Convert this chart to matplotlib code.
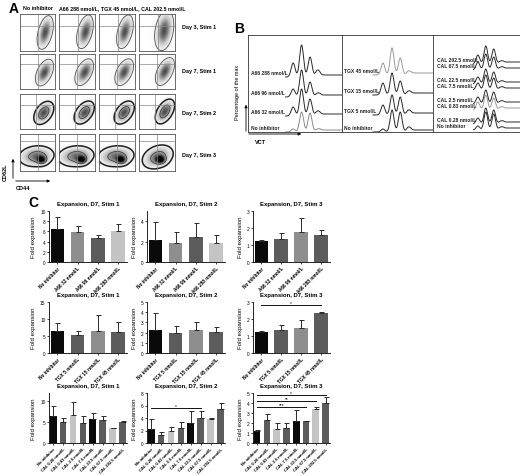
import numpy as np
import matplotlib
matplotlib.use("Agg")
import matplotlib.pyplot as plt

plt.rcParams['font.family'] = ['Liberation Sans', 'DejaVu Sans']

W, H = 520, 477

# ---------------- Panel A: flow plots ----------------
A_HEADER_1 = 'No inhibitor'
A_HEADER_2 = 'A66 288 nmol/L, TGX 45 nmol/L, CAL 202.5 nmol/L'
A_ROWS = ['Day 3, Stim 1', 'Day 7, Stim 1', 'Day 7, Stim 2', 'Day 7, Stim 3']
# main population (axes fraction), rows x columns
FLOW_CX = [[0.72, 0.72, 0.72, 0.70], [0.70, 0.70, 0.70, 0.72],
           [0.68, 0.70, 0.70, 0.72], [0.62, 0.62, 0.62, 0.60]]
FLOW_CY = [[0.50, 0.52, 0.52, 0.55], [0.47, 0.48, 0.48, 0.50],
           [0.46, 0.47, 0.47, 0.50], [0.30, 0.30, 0.30, 0.30]]
FLOW_SX = [[0.105, 0.105, 0.105, 0.13], [0.11, 0.11, 0.11, 0.11],
           [0.12, 0.115, 0.115, 0.11], [0.09, 0.09, 0.09, 0.09]]
FLOW_SY = [[0.24, 0.24, 0.24, 0.28], [0.21, 0.21, 0.21, 0.22],
           [0.19, 0.19, 0.19, 0.20], [0.07, 0.07, 0.07, 0.07]]
FLOW_TILT = [[-15, -15, -15, -10], [-25, -25, -25, -25],
             [-35, -35, -35, -30], [0, 0, 0, 0]]
# second (spread) population, only in Stim 3 row
SPREAD_CX = [0.47, 0.47, 0.47, 0.52]
SPREAD_CY = [0.40, 0.40, 0.40, 0.38]
SPREAD_SX = [0.27, 0.27, 0.27, 0.24]
SPREAD_SY = [0.15, 0.15, 0.15, 0.16]
SPREAD_TILT = [5, 5, 5, 22]
GATE_X = [0.52, 0.50, 0.45, 0.50]
GATE_Y = [0.68, 0.72, 0.70, 0.80]

# ---------------- Panel B: VCT histograms ----------------
B_LEFT_LABELS = ['No inhibitor', 'A66 32 nmol/L', 'A66 96 nmol/L', 'A66 288 nmol/L']
B_LEFT_BASE = [0, 16, 35, 55]
B_LEFT_PEAKS = [0.48, 0.57, 0.66, 0.74]
B_LEFT_HEIGHTS = [[3, 20, 19, 3], [9, 27, 17, 5], [8, 27, 15, 4], [14, 32, 20, 7]]

B_MID_LABELS = ['No inhibitor', 'TGX 5 nmol/L', 'TGX 15 nmol/L', 'TGX 45 nmol/L']
B_MID_BASE = [0, 17, 37, 57]
B_MID_PEAKS = [0.45, 0.55, 0.64, 0.73]
B_MID_HEIGHTS = [[3, 22, 20, 5], [10, 20, 18, 5], [12, 22, 14, 4], [12, 27, 17, 4]]

B_RIGHT_LABELS = ['No inhibitor', 'CAL 0.28 nmol/L', 'CAL 0.83 nmol/L', 'CAL 2.5 nmol/L',
                  'CAL 7.5 nmol/L', 'CAL 22.5 nmol/L', 'CAL 67.5 nmol/L', 'CAL 202.5 nmol/L']
B_RIGHT_BASE = [2, 8, 22, 28, 42, 48, 62, 68]
B_RIGHT_PEAKS = [0.51, 0.60, 0.69, 0.77]
B_RIGHT_HEIGHTS = [[4, 18, 16, 3], [6, 16, 14, 3], [8, 15, 12, 3], [7, 14, 12, 3],
                   [7, 15, 12, 3], [7, 15, 12, 3], [8, 16, 13, 3], [9, 18, 15, 3]]

# ---------------- Panel C: fold expansion ----------------
A66_CATS = ['No inhibitor', 'A66 32 nmol/L', 'A66 96 nmol/L', 'A66 288 nmol/L']
TGX_CATS = ['No inhibitor', 'TGX 5 nmol/L', 'TGX 15 nmol/L', 'TGX 45 nmol/L']
CAL_CATS = ['No inhibitor', 'CAL 0.28 nmol/L', 'CAL 0.83 nmol/L', 'CAL 2.5 nmol/L',
            'CAL 7.5 nmol/L', 'CAL 22.5 nmol/L', 'CAL 67.5 nmol/L', 'CAL 202.5 nmol/L']

A66_STIM1 = [6.4, 5.8, 4.8, 6.1]
A66_STIM1_ERR = [2.4, 1.2, 0.5, 1.3]
A66_STIM2 = [2.2, 1.9, 2.5, 1.9]
A66_STIM2_ERR = [1.7, 1.0, 1.3, 0.7]
A66_STIM3 = [1.25, 1.38, 1.78, 1.6]
A66_STIM3_ERR = [0.02, 0.3, 0.82, 0.3]

TGX_STIM1 = [6.5, 5.2, 6.5, 6.3]
TGX_STIM1_ERR = [2.3, 1.3, 4.6, 2.8]
TGX_STIM2 = [2.25, 2.0, 2.25, 2.1]
TGX_STIM2_ERR = [1.65, 0.6, 0.75, 0.45]
TGX_STIM3 = [1.25, 1.35, 1.45, 2.35]
TGX_STIM3_ERR = [0.02, 0.28, 0.47, 0.05]

CAL_STIM1 = [6.5, 5.1, 6.7, 4.9, 5.8, 5.6, 3.5, 5.0]
CAL_STIM1_ERR = [2.3, 0.8, 3.1, 1.5, 1.3, 1.0, 0.1, 0.3]
CAL_STIM2 = [2.3, 1.3, 2.0, 2.4, 3.25, 3.95, 3.8, 5.4]
CAL_STIM2_ERR = [1.6, 0.45, 0.5, 1.0, 1.95, 1.2, 0.25, 1.0]
CAL_STIM3 = [1.25, 2.3, 1.4, 1.55, 2.2, 2.2, 3.4, 4.05]
CAL_STIM3_ERR = [0.02, 0.65, 0.6, 0.45, 1.1, 0.03, 0.25, 0.55]

# significance brackets: (first bar, last bar, height, stars)
TGX_STIM3_SIG = [(0, 3, 2.85, '*')]
CAL_STIM2_SIG = [(0, 5, 5.6, '*')]
CAL_STIM3_SIG = [(0, 7, 4.8, '*'), (0, 6, 4.2, '**'), (0, 5, 3.6, '***')]

BLACK, DARK, MID, LIGHT = '#0a0a0a', '#5c5c5c', '#8e8e8e', '#c4c4c4'


def px_box(x0, y0, x1, y1):
    return [x0 / W, 1 - y1 / H, (x1 - x0) / W, (y1 - y0) / H]


def blob(gx, gy, cx, cy, sx, sy, tilt):
    t = np.deg2rad(tilt)
    dx, dy = gx - cx, gy - cy
    u = dx * np.cos(t) + dy * np.sin(t)
    v = -dx * np.sin(t) + dy * np.cos(t)
    return np.exp(-0.5 * ((u / sx) ** 2 + (v / sy) ** 2))


def flow_panel(ax, r, c):
    g = np.linspace(0, 1, 120)
    gx, gy = np.meshgrid(g, g)
    dens = blob(gx, gy, FLOW_CX[r][c], FLOW_CY[r][c], FLOW_SX[r][c], FLOW_SY[r][c], FLOW_TILT[r][c])
    if r == 3:
        dens = dens + 0.85 * blob(gx, gy, SPREAD_CX[c], SPREAD_CY[c], SPREAD_SX[c],
                                  SPREAD_SY[c], SPREAD_TILT[c])
    ax.imshow(dens, origin='lower', extent=(0, 1, 0, 1), cmap='Greys', vmin=0, vmax=1.3,
              aspect='auto', interpolation='bilinear')
    if r >= 2:
        ax.contour(g, g, dens, levels=[0.15], colors='#202020', linewidths=1.1)
        ax.contour(g, g, dens, levels=[0.6], colors='#303030', linewidths=0.5)
    else:
        ax.contour(g, g, dens, levels=[0.15], colors='#505050', linewidths=0.6)
    ax.axvline(GATE_X[r], color='#888888', lw=0.5)
    ax.axhline(GATE_Y[r], color='#888888', lw=0.5)
    ax.set_xlim(0, 1)
    ax.set_ylim(0, 1)
    ax.set_xticks([])
    ax.set_yticks([])
    for s in ax.spines.values():
        s.set_color('#555555')
        s.set_linewidth(0.6)


def hist_panel(ax, labels, bases, peaks, heights, start, label_x, colors):
    x = np.linspace(start, 1.0, 400)
    for lab, b, hs, col in zip(labels, bases, heights, colors):
        y = np.full_like(x, float(b))
        for p, h in zip(peaks, hs):
            y += h * np.exp(-0.5 * ((x - p) / 0.021) ** 2)
        y += 2.0 * np.clip((x - peaks[-1]) / 0.03, 0, 1)
        ax.plot(x, y, color=col, lw=0.7)
        ax.text(label_x, b + 4.5, lab, fontsize=3.6, fontweight='bold', va='center',
                ha='left', color='#222222')
    ax.set_xlim(0, 1)
    ax.set_ylim(0, 97)
    ax.set_xticks([])
    ax.set_yticks([])
    for s in ax.spines.values():
        s.set_linewidth(0.6)
        s.set_color('#333333')


def bar_panel(ax, cats, vals, errs, colors, ylim, yticks, title, sig=()):
    x = np.arange(len(cats))
    ax.bar(x, vals, width=0.68, color=colors, edgecolor='none', zorder=2)
    ax.errorbar(x, vals, yerr=[np.zeros(len(vals)), errs], fmt='none', ecolor='#2a2a2a',
                elinewidth=0.7, capsize=1.8, capthick=0.7, zorder=3)
    for i0, i1, yy, stars in sig:
        ax.plot([x[i0], x[i1]], [yy, yy], color='#111111', lw=0.7, zorder=4)
        ax.text((x[i0] + x[i1]) / 2, yy, stars, fontsize=3.5, ha='center', va='bottom')
    ax.set_xlim(-0.42, len(cats) - 0.55)
    ax.set_ylim(*ylim)
    ax.set_yticks(yticks)
    ax.set_xticks(x)
    lab_size = 3.4 if len(cats) <= 4 else 3.0
    ax.set_xticklabels(cats, rotation=45, ha='right', rotation_mode='anchor',
                       fontsize=lab_size, fontweight='bold')
    ax.tick_params(axis='y', labelsize=3.4, length=1.5, width=0.5, pad=1)
    ax.tick_params(axis='x', length=1.5, width=0.5, pad=1)
    ax.set_ylabel('Fold expansion', fontsize=4.4, labelpad=3)
    ax.set_title(title, fontsize=4.3, fontweight='bold', pad=4)
    for s in ('top', 'right'):
        ax.spines[s].set_visible(False)
    for s in ('left', 'bottom'):
        ax.spines[s].set_linewidth(0.6)


def main():
    fig = plt.figure(figsize=(W / 100, H / 100), dpi=100)

    # overlay for letters, labels and arrows (pixel coordinates)
    ov = fig.add_axes([0, 0, 1, 1])
    ov.set_xlim(0, W)
    ov.set_ylim(H, 0)
    ov.axis('off')

    # ---- A ----
    ov.text(9, 9, 'A', fontsize=10, fontweight='bold', va='center')
    ov.text(23, 9, A_HEADER_1, fontsize=3.8, fontweight='bold', va='center')
    ov.text(59, 9, A_HEADER_2, fontsize=3.8, fontweight='bold', va='center')
    col_x = [(20, 55), (59, 95), (99, 135), (139, 175)]
    row_y = [(15, 52), (55, 90), (95, 130), (135, 172)]
    row_lab_y = [27, 72, 113, 156]
    for r in range(4):
        for c in range(4):
            ax = fig.add_axes(px_box(col_x[c][0], row_y[r][0], col_x[c][1], row_y[r][1]))
            flow_panel(ax, r, c)
        ov.text(182, row_lab_y[r], A_ROWS[r], fontsize=4, fontweight='bold', va='center')
    ov.annotate('', xy=(13, 157), xytext=(13, 182),
                arrowprops=dict(arrowstyle='-|>', lw=0.6, color='black', mutation_scale=4))
    ov.annotate('', xy=(53, 182), xytext=(13, 182),
                arrowprops=dict(arrowstyle='-|>', lw=0.6, color='black', mutation_scale=4))
    ov.text(5, 172, 'CD62L', fontsize=4, fontweight='bold', rotation=90, va='center', ha='center')
    ov.text(16, 189, 'CD44', fontsize=4, fontweight='bold', va='center')

    # ---- B ----
    ov.text(234, 29, 'B', fontsize=10, fontweight='bold', va='center')
    ov.text(237, 92, 'Percentage of the max', fontsize=4, rotation=90, va='center', ha='center')
    axl = fig.add_axes(px_box(248, 36, 342, 133))
    hist_panel(axl, B_LEFT_LABELS, B_LEFT_BASE, B_LEFT_PEAKS, B_LEFT_HEIGHTS, 0.40, 0.03,
               ['#8a8a8a', '#2a2a2a', '#2a2a2a', '#2a2a2a'])
    axm = fig.add_axes(px_box(342, 36, 433, 133))
    hist_panel(axm, B_MID_LABELS, B_MID_BASE, B_MID_PEAKS, B_MID_HEIGHTS, 0.34, 0.02,
               ['#2a2a2a', '#2a2a2a', '#2a2a2a', '#9a9a9a'])
    axr = fig.add_axes(px_box(433, 36, 521, 133))
    hist_panel(axr, B_RIGHT_LABELS, B_RIGHT_BASE, B_RIGHT_PEAKS, B_RIGHT_HEIGHTS, 0.46, 0.04,
               ['#2a2a2a', '#2a2a2a', '#9a9a9a', '#2a2a2a',
                '#2a2a2a', '#2a2a2a', '#2a2a2a', '#2a2a2a'])
    axr.spines['right'].set_visible(False)
    ov.annotate('', xy=(246, 103), xytext=(246, 135),
                arrowprops=dict(arrowstyle='-|>', lw=0.6, color='black', mutation_scale=4))
    ov.annotate('', xy=(304, 135), xytext=(246, 135),
                arrowprops=dict(arrowstyle='-|>', lw=0.6, color='black', mutation_scale=4))
    ov.text(255, 143, 'VCT', fontsize=4, fontweight='bold', va='center')

    # ---- C ----
    ov.text(28, 203, 'C', fontsize=10, fontweight='bold', va='center')
    cols = [(49, 127), (147, 225), (253, 330)]
    rows = [(212, 263), (303, 354), (394, 444)]
    c4 = [BLACK, MID, DARK, LIGHT]
    c4b = [BLACK, DARK, MID, DARK]
    c8 = [BLACK, DARK, LIGHT, DARK, BLACK, DARK, LIGHT, DARK]
    panels = [
        [(A66_CATS, A66_STIM1, A66_STIM1_ERR, c4, (0, 10), [0, 2, 4, 6, 8, 10], 'Expansion, D7, Stim 1', ()),
         (A66_CATS, A66_STIM2, A66_STIM2_ERR, c4, (0, 5), [0, 2, 4], 'Expansion, D7, Stim 2', ()),
         (A66_CATS, A66_STIM3, A66_STIM3_ERR, c4b, (0, 3), [0, 1, 2, 3], 'Expansion, D7, Stim 3', ())],
        [(TGX_CATS, TGX_STIM1, TGX_STIM1_ERR, c4b, (0, 15), [0, 5, 10, 15], 'Expansion, D7, Stim 1', ()),
         (TGX_CATS, TGX_STIM2, TGX_STIM2_ERR, c4b, (0, 5), [0, 1, 2, 3, 4, 5], 'Expansion, D7, Stim 2', ()),
         (TGX_CATS, TGX_STIM3, TGX_STIM3_ERR, c4b, (0, 3), [0, 1, 2, 3], 'Expansion, D7, Stim 3',
          TGX_STIM3_SIG)],
        [(CAL_CATS, CAL_STIM1, CAL_STIM1_ERR, c8, (0, 12), [0, 5, 10], 'Expansion, D7, Stim 1', ()),
         (CAL_CATS, CAL_STIM2, CAL_STIM2_ERR, c8, (0, 8), [0, 2, 4, 6, 8], 'Expansion, D7, Stim 2',
          CAL_STIM2_SIG),
         (CAL_CATS, CAL_STIM3, CAL_STIM3_ERR, c8, (0, 5), [0, 1, 2, 3, 4, 5], 'Expansion, D7, Stim 3',
          CAL_STIM3_SIG)],
    ]
    for r in range(3):
        for c in range(3):
            ax = fig.add_axes(px_box(cols[c][0], rows[r][0], cols[c][1], rows[r][1]))
            bar_panel(ax, *panels[r][c])

    fig.savefig('out.png', dpi=100)


if __name__ == "__main__":
    main()
